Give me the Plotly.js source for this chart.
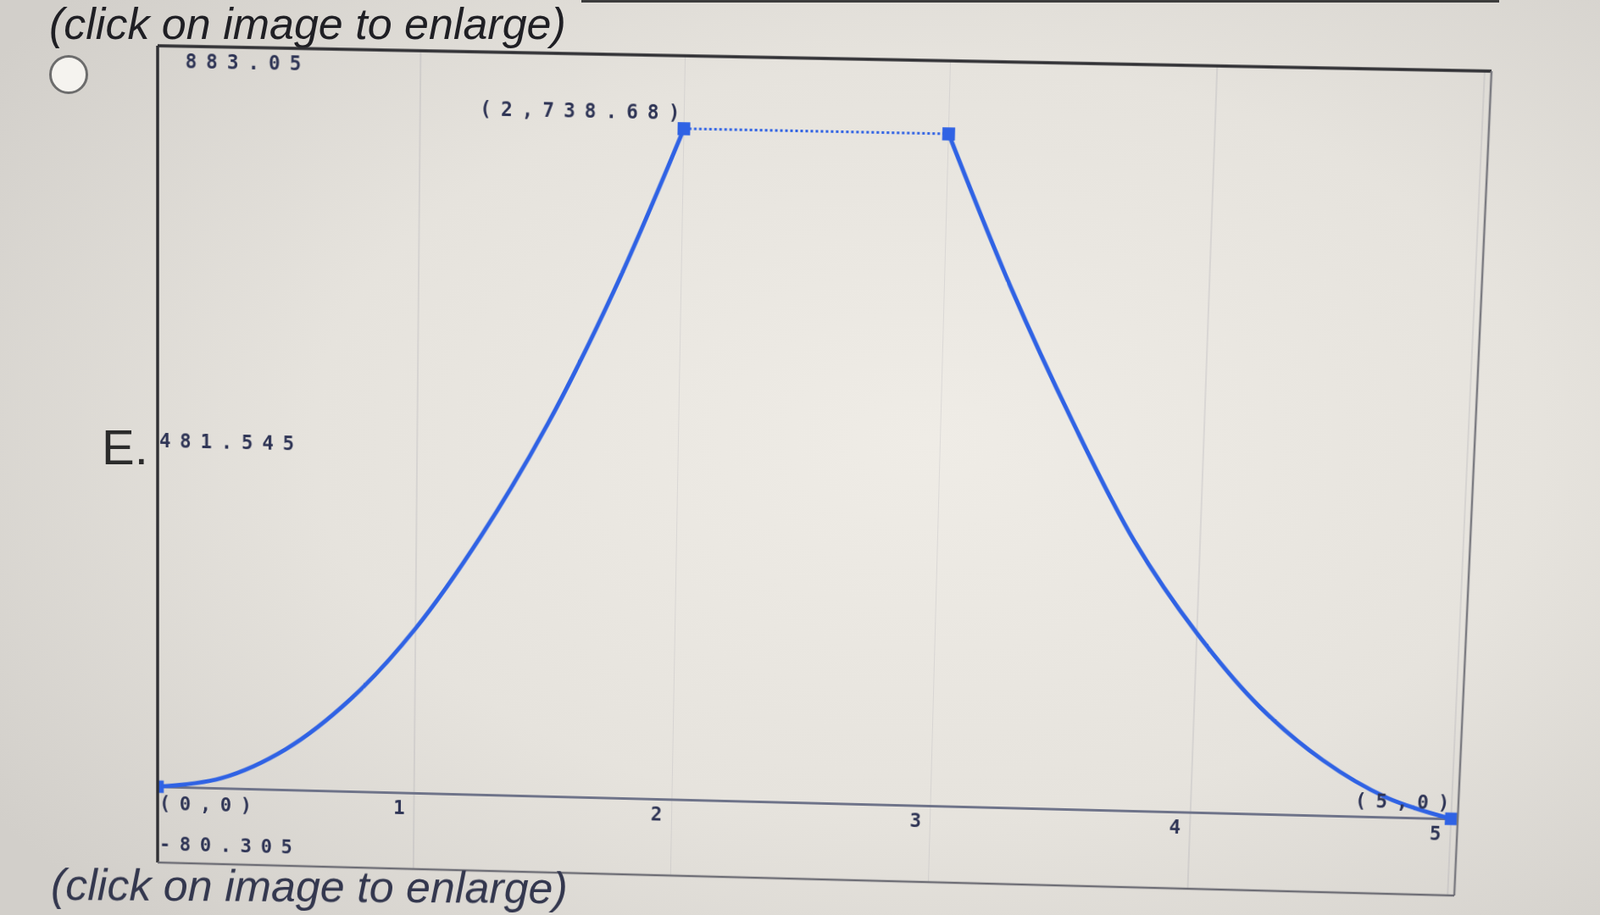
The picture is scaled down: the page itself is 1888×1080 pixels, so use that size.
<!DOCTYPE html>
<html>
<head>
<meta charset="utf-8">
<script src="https://cdn.plot.ly/plotly-3.0.1.min.js"></script>
<style>
html,body{margin:0;padding:0;width:1888px;height:1080px;overflow:hidden;}
body{position:relative;background:radial-gradient(ellipse 70% 75% at 58% 48%, #efece6 0%, #e6e3dd 55%, #d2cfca 100%);font-family:"Liberation Sans", Arial, sans-serif;}
#topbox{position:absolute;left:686px;top:-20px;width:1080px;height:20px;border-bottom:3px solid #3c3c3c;border-right:3px solid #3c3c3c;}
.cap{position:absolute;font-style:italic;white-space:nowrap;line-height:1;}
#cap1{left:58px;top:2px;font-size:52px;color:#1f1f24;}
#cap2{left:60px;top:1018px;font-size:52px;color:#33374e;transform:rotate(0.4deg);transform-origin:0 50%;}
#radio{position:absolute;left:58px;top:65px;width:46px;height:46px;border-radius:50%;border:3px solid #6c6c6c;background:#f5f3ef;box-sizing:border-box;}
#lblE{position:absolute;left:120px;top:499px;font-size:58px;line-height:1;color:#2b2b2b;}
#plot{position:absolute;left:0;top:0;width:1582px;height:972px;transform-origin:0 0;}
#plot .annotation-text{letter-spacing:11px;}
</style>
</head>
<body>
<div id="topbox"></div>
<div class="cap" id="cap1">(click on image to enlarge)</div>
<div id="radio"></div>
<div id="lblE">E.</div>
<div id="plot"></div>
<div class="cap" id="cap2">(click on image to enlarge)</div>
<script>
// ---- data ----
const xRise = [0, 0.25, 0.5, 0.75, 1, 1.25, 1.5, 1.75, 2];
const yRise = [0, 11.5, 46, 104, 185, 290, 415, 565, 738.68];
const xFlat = [2, 3];
const yFlat = [738.68, 738.68];
const xFall = [3, 3.25, 3.5, 3.75, 4, 4.25, 4.5, 4.75, 5];
const yFall = [738.68, 575, 430, 300, 200, 120, 62, 22, 0];
const xEnds = [0, 2, 3, 5];
const yEnds = [0, 738.68, 738.68, 0];
const yLabelText = ['883.05', '481.545', '-80.305'];
const pointLabelText = ['(0,0)', '(2,738.68)', '(5,0)'];
const xTickVals = [1, 2, 3, 4, 5];
const xTickText = ['1', '2', '3', '4', '5'];

// ---- styling ----
const W = 1582, H = 972, M = 4;
const BLUE = '#2f62e4';
const labFont = {family: 'DejaVu Sans Mono', size: 23, color: '#2e3455', weight: 'bold'};

const traces = [
  {x: xRise, y: yRise, mode: 'lines', line: {color: BLUE, width: 5, shape: 'spline'}, hoverinfo: 'skip'},
  {x: xFlat, y: yFlat, mode: 'lines', line: {color: BLUE, width: 3, dash: 'dot'}, hoverinfo: 'skip'},
  {x: xFall, y: yFall, mode: 'lines', line: {color: BLUE, width: 5, shape: 'spline'}, hoverinfo: 'skip'},
  {x: xEnds, y: yEnds, mode: 'markers', marker: {color: BLUE, size: 15, symbol: 'square'}, hoverinfo: 'skip'}
];

const annotations = [];
// y-axis value labels (top, middle, bottom of the frame)
const yLabX = [0.02, 0.0, 0.0];
const yLabY = [0.982, 0.524, 0.024];
yLabelText.forEach((t, i) => annotations.push({
  text: t, xref: 'paper', yref: 'paper', x: yLabX[i], y: yLabY[i],
  xanchor: 'left', yanchor: 'middle', align: 'left', showarrow: false, font: labFont
}));
// point labels
annotations.push({text: pointLabelText[0], x: xEnds[0], y: yEnds[0], xanchor: 'left', yanchor: 'top', align: 'left',
  yshift: -5, showarrow: false, font: labFont});
annotations.push({text: pointLabelText[1], x: xEnds[1], y: yEnds[1], xanchor: 'right', yanchor: 'bottom', align: 'right',
  yshift: 4, xshift: 8, showarrow: false, font: labFont});
annotations.push({text: pointLabelText[2], x: xEnds[3], y: yEnds[3], xanchor: 'right', yanchor: 'bottom', align: 'right',
  yshift: 4, xshift: 10, showarrow: false, font: labFont});
// x tick labels just under the axis
xTickVals.forEach((v, i) => annotations.push({
  text: xTickText[i], x: v, y: 0, xanchor: 'right', yanchor: 'top', align: 'right',
  xshift: 2, yshift: -3, showarrow: false, font: labFont
}));

const layout = {
  width: W, height: H,
  margin: {l: M, r: M, t: M, b: M, pad: 0},
  paper_bgcolor: 'rgba(0,0,0,0)', plot_bgcolor: 'rgba(0,0,0,0)',
  showlegend: false,
  xaxis: {range: [0, 5.025], tickvals: xTickVals, showticklabels: false, ticks: '',
    showgrid: true, gridcolor: 'rgba(110,110,135,0.14)', gridwidth: 1.5,
    zeroline: false, showline: false, fixedrange: true},
  yaxis: {range: [-86, 817], showticklabels: false, ticks: '', showgrid: false,
    zeroline: true, zerolinecolor: '#6e7389', zerolinewidth: 3, showline: false, fixedrange: true},
  shapes: [
    {type: 'line', xref: 'paper', yref: 'paper', x0: 0, x1: 1, y0: 1, y1: 1, line: {color: '#2f2f33', width: 3.5}},
    {type: 'line', xref: 'paper', yref: 'paper', x0: 0, x1: 0, y0: 0, y1: 1, line: {color: '#2f2f33', width: 3.5}},
    {type: 'line', xref: 'paper', yref: 'paper', x0: 1, x1: 1, y0: 0, y1: 1, line: {color: '#7a7a80', width: 2.5}},
    {type: 'line', xref: 'paper', yref: 'paper', x0: 0, x1: 1, y0: 0, y1: 0, line: {color: '#6c6c74', width: 2.5}}
  ],
  annotations: annotations
};

Plotly.newPlot('plot', traces, layout, {staticPlot: true, displayModeBar: false});

// perspective of the photographed screen: map the frame onto the observed quadrilateral
function squareToQuad(q) {
  const [x0, y0] = q[0], [x1, y1] = q[1], [x2, y2] = q[2], [x3, y3] = q[3];
  const dx1 = x1 - x2, dx2 = x3 - x2, dx3 = x0 - x1 + x2 - x3;
  const dy1 = y1 - y2, dy2 = y3 - y2, dy3 = y0 - y1 + y2 - y3;
  const den = dx1 * dy2 - dx2 * dy1;
  const g = (dx3 * dy2 - dx2 * dy3) / den, h = (dx1 * dy3 - dx3 * dy1) / den;
  return {a: x1 - x0 + g * x1, b: x3 - x0 + h * x3, c: x0,
          d: y1 - y0 + g * y1, e: y3 - y0 + h * y3, f: y0, g: g, h: h};
}
const quad = [[186, 54], [1760, 84], [1716, 1057], [186, 1018]];
const s = squareToQuad(quad);
const Wi = W - 2 * M, Hi = H - 2 * M;
const A = s.a / Wi, B = s.b / Hi, C = s.c - s.a * M / Wi - s.b * M / Hi;
const D = s.d / Wi, E = s.e / Hi, F = s.f - s.d * M / Wi - s.e * M / Hi;
const G = s.g / Wi, Hh = s.h / Hi, K = 1 - s.g * M / Wi - s.h * M / Hi;
document.getElementById('plot').style.transform =
  `matrix3d(${A},${D},0,${G},${B},${E},0,${Hh},0,0,1,0,${C},${F},0,${K})`;
</script>
</body>
</html>
